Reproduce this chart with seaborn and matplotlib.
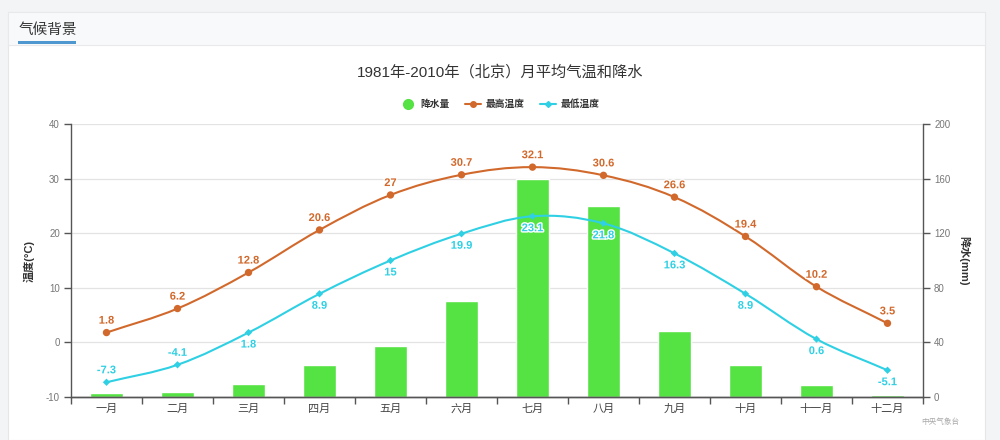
import numpy as np
import pandas as pd
import seaborn as sns
import matplotlib.pyplot as plt
from matplotlib.path import Path
from matplotlib.patches import PathPatch, Rectangle
from matplotlib.lines import Line2D
import matplotlib.patheffects as pe

sns.set_theme(style='white')
plt.rcParams['font.family'] = ['Liberation Sans', 'Noto Sans CJK SC', 'DejaVu Sans']
plt.rcParams['axes.unicode_minus'] = False

# 数据
months = ['一月', '二月', '三月', '四月', '五月', '六月',
          '七月', '八月', '九月', '十月', '十一月', '十二月']
precip = [2.6, 3.9, 9.7, 23.2, 37.4, 70.1, 159.7, 139.6, 48.0, 23.1, 9.0, 1.5]
t_max = [1.8, 6.2, 12.8, 20.6, 27, 30.7, 32.1, 30.6, 26.6, 19.4, 10.2, 3.5]
t_min = [-7.3, -4.1, 1.8, 8.9, 15, 19.9, 23.1, 21.8, 16.3, 8.9, 0.6, -5.1]
min_label_above = [True, True] + [False] * 10

GREEN = '#55e243'
ORANGE = '#d2692c'
CYAN = '#2fd0e4'
AXIS = '#555555'
TICK_TXT = '#777777'


def smooth_path(xs, ys, sx=71.0, sy=5.46, smooth=0.35):
    """平滑曲线 (贝塞尔路径), 在像素尺度下计算控制点"""
    pts = np.column_stack([np.asarray(xs) * sx, np.asarray(ys) * sy]).astype(float)
    n = len(pts)
    cps = []
    for i in range(n):
        prev = pts[max(i - 1, 0)]
        nxt = pts[min(i + 1, n - 1)]
        cur = pts[i]
        v = nxt - prev
        lp = np.hypot(*(cur - prev))
        ln = np.hypot(*(nxt - cur))
        r = ln / (lp + ln) if (lp + ln) > 0 else 0.5
        cps.append((cur - v * smooth * (1 - r), cur + v * smooth * r))
    verts = [pts[0]]
    codes = [Path.MOVETO]
    for i in range(n - 1):
        verts += [cps[i][1], cps[i + 1][0], pts[i + 1]]
        codes += [Path.CURVE4] * 3
    verts = np.array(verts) / np.array([sx, sy])
    return Path(verts, codes)


fig = plt.figure(figsize=(10, 4.4), dpi=100)
fig.patch.set_facecolor('#f3f4f6')

# 卡片背景
fig.add_artist(Rectangle((0.008, 0), 0.977, 1 - 12 / 440, transform=fig.transFigure,
                         facecolor='white', edgecolor='#e6e6e6', lw=0.8, zorder=-5))
fig.add_artist(Rectangle((0.008, 1 - 45 / 440), 0.977, 33 / 440, transform=fig.transFigure,
                         facecolor='#f8f9fb', edgecolor='#e9e9ec', lw=0.8, zorder=-4))
fig.add_artist(Rectangle((0.018, 1 - 44 / 440), 0.058, 3 / 440, transform=fig.transFigure,
                         facecolor='#4f97cf', edgecolor='none', zorder=-3))
fig.text(0.019, 1 - 30 / 440, '气候背景', fontsize=10.5, color='#333333', va='center')

ax = fig.add_axes([0.071, 1 - 397 / 440, 0.852, 273 / 440])
ax2 = ax.twinx()
ax.set_zorder(ax2.get_zorder() + 1)
ax.patch.set_visible(False)

# 降水柱状图
df = pd.DataFrame({'month': months, 'precip': precip})
sns.barplot(data=df, x='month', y='precip', ax=ax2, color=GREEN, saturation=1,
            width=0.47, zorder=2)
ax2.set_ylim(0, 200)
ax2.set_yticks(np.arange(0, 201, 40))
ax2.set_axisbelow(True)
ax2.yaxis.grid(True, color='#e3e3e3', lw=0.9)
ax2.set_ylabel('降水(mm)', fontsize=8, fontweight='bold', color='#333333',
               rotation=-90, labelpad=10, va='center')

# 温度曲线
x = np.arange(len(months))
ax.set_xlim(-0.5, len(months) - 0.5)
ax.set_ylim(-10, 40)
ax.set_yticks(np.arange(-10, 41, 10))
for vals, col in [(t_max, ORANGE), (t_min, CYAN)]:
    ax.add_patch(PathPatch(smooth_path(x, vals), facecolor='none', edgecolor=col,
                           lw=1.5, zorder=3, transform=ax.transData))
sns.scatterplot(x=x, y=t_max, ax=ax, color=ORANGE, marker='o', s=28,
                edgecolor='none', zorder=4, legend=False)
sns.scatterplot(x=x, y=t_min, ax=ax, color=CYAN, marker='D', s=14,
                edgecolor='none', zorder=4, legend=False)

for i, v in enumerate(t_max):
    ax.annotate(f'{v:g}', (i, v), xytext=(0, 5), textcoords='offset points',
                ha='center', va='bottom', fontsize=8, fontweight='bold', color=ORANGE,
                path_effects=[pe.withStroke(linewidth=2, foreground='white')], zorder=5)
for i, v in enumerate(t_min):
    above = min_label_above[i]
    ax.annotate(f'{v:g}', (i, v), xytext=(0, 5 if above else -5), textcoords='offset points',
                ha='center', va='bottom' if above else 'top', fontsize=8,
                fontweight='bold', color=CYAN,
                path_effects=[pe.withStroke(linewidth=2, foreground='white')], zorder=5)

ax.set_ylabel('温度(°C)', fontsize=8, fontweight='bold', color='#333333', labelpad=8)
ax.set_xlabel('')
ax2.set_xlabel('')

# 坐标轴样式
for a in (ax, ax2):
    a.spines['top'].set_visible(False)
    for s in ('left', 'right', 'bottom'):
        a.spines[s].set_color(AXIS)
        a.spines[s].set_linewidth(1)
ax.spines['right'].set_visible(False)
ax2.spines['left'].set_visible(False)
ax.tick_params(axis='y', direction='out', length=5, width=1, color=AXIS,
               labelsize=7, labelcolor=TICK_TXT, pad=3, left=True)
ax2.tick_params(axis='y', direction='out', length=5, width=1, color=AXIS,
                labelsize=7, labelcolor=TICK_TXT, pad=3, right=True)
ax.set_xticks(x)
ax.set_xticklabels(months)
ax.set_xticks(np.arange(-0.5, len(months)), minor=True)
ax.tick_params(axis='x', which='major', length=0, labelsize=8, labelcolor='#444444', pad=5)
ax.tick_params(axis='x', which='minor', direction='out', length=5, width=1, color=AXIS,
               bottom=True)
ax2.tick_params(axis='x', which='both', bottom=False, labelbottom=False)

# 标题与图例
fig.text(0.5, 1 - 72 / 440, '1981年-2010年（北京）月平均气温和降水', ha='center', va='center',
         fontsize=11, color='#333333')
handles = [
    Line2D([], [], ls='none', marker='o', ms=7, color=GREEN),
    Line2D([], [], color=ORANGE, lw=1.5, marker='o', ms=4),
    Line2D([], [], color=CYAN, lw=1.5, marker='D', ms=3),
]
fig.legend(handles, ['降水量', '最高温度', '最低温度'], loc='center',
           bbox_to_anchor=(0.5, 1 - 104 / 440), ncol=3, frameon=False,
           prop={'size': 7, 'weight': 'bold'}, labelcolor='#333333',
           handlelength=1.6, columnspacing=1.6, handletextpad=0.5)

fig.text(0.94, 1 - 422 / 440, '中央气象台', ha='center', va='center', fontsize=5.5,
         color='#aaaaaa')

fig.savefig('out.png', dpi=100, facecolor=fig.get_facecolor())
